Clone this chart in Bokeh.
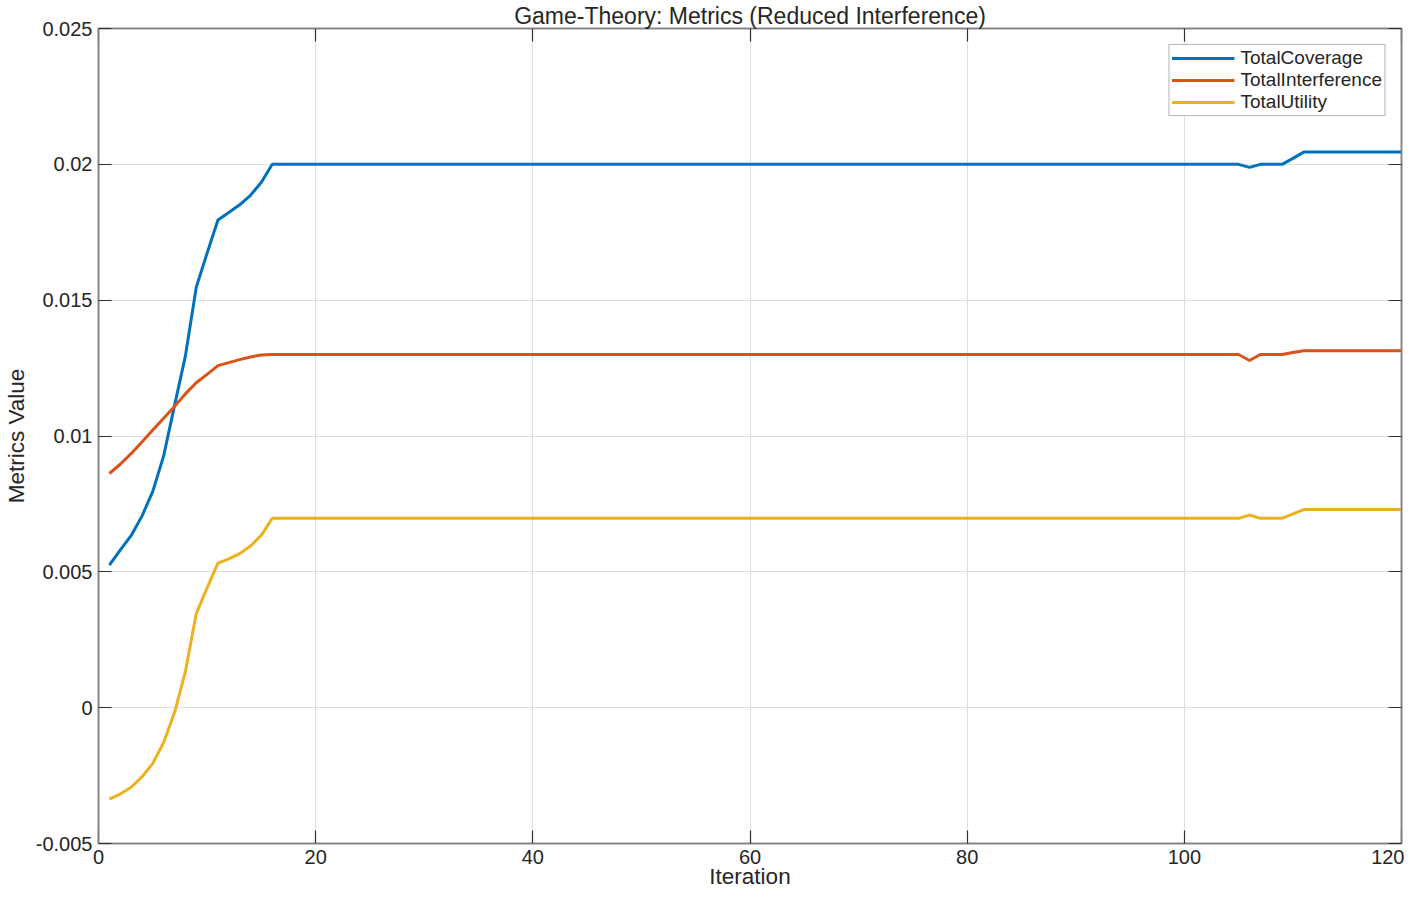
from bokeh.plotting import figure
from bokeh.models import (LinearAxis, FixedTicker, CustomJSTickFormatter, Legend,
                          LegendItem, Range1d)
from bokeh.embed import file_html
from bokeh.resources import INLINE

# ---------------- data ----------------
iterations = list(range(1, 121))

total_coverage = [
    0.00525, 0.00580, 0.00633, 0.00705, 0.00796, 0.00927, 0.01112, 0.01294, 0.01547, 0.01673,
    0.01795, 0.01823, 0.01851, 0.01886, 0.01934, 0.02000, 0.02000, 0.02000, 0.02000, 0.02000,
    0.02000, 0.02000, 0.02000, 0.02000, 0.02000, 0.02000, 0.02000, 0.02000, 0.02000, 0.02000,
    0.02000, 0.02000, 0.02000, 0.02000, 0.02000, 0.02000, 0.02000, 0.02000, 0.02000, 0.02000,
    0.02000, 0.02000, 0.02000, 0.02000, 0.02000, 0.02000, 0.02000, 0.02000, 0.02000, 0.02000,
    0.02000, 0.02000, 0.02000, 0.02000, 0.02000, 0.02000, 0.02000, 0.02000, 0.02000, 0.02000,
    0.02000, 0.02000, 0.02000, 0.02000, 0.02000, 0.02000, 0.02000, 0.02000, 0.02000, 0.02000,
    0.02000, 0.02000, 0.02000, 0.02000, 0.02000, 0.02000, 0.02000, 0.02000, 0.02000, 0.02000,
    0.02000, 0.02000, 0.02000, 0.02000, 0.02000, 0.02000, 0.02000, 0.02000, 0.02000, 0.02000,
    0.02000, 0.02000, 0.02000, 0.02000, 0.02000, 0.02000, 0.02000, 0.02000, 0.02000, 0.02000,
    0.02000, 0.02000, 0.02000, 0.02000, 0.02000, 0.01989, 0.02000, 0.02000, 0.02000, 0.02022,
    0.02045, 0.02045, 0.02045, 0.02045, 0.02045, 0.02045, 0.02045, 0.02045, 0.02045, 0.02045,
]

total_interference = [
    0.00862, 0.00896, 0.00935, 0.00978, 0.01022, 0.01065, 0.01109, 0.01155, 0.01196, 0.01227,
    0.01259, 0.01270, 0.01281, 0.01291, 0.01298, 0.01300, 0.01300, 0.01300, 0.01300, 0.01300,
    0.01300, 0.01300, 0.01300, 0.01300, 0.01300, 0.01300, 0.01300, 0.01300, 0.01300, 0.01300,
    0.01300, 0.01300, 0.01300, 0.01300, 0.01300, 0.01300, 0.01300, 0.01300, 0.01300, 0.01300,
    0.01300, 0.01300, 0.01300, 0.01300, 0.01300, 0.01300, 0.01300, 0.01300, 0.01300, 0.01300,
    0.01300, 0.01300, 0.01300, 0.01300, 0.01300, 0.01300, 0.01300, 0.01300, 0.01300, 0.01300,
    0.01300, 0.01300, 0.01300, 0.01300, 0.01300, 0.01300, 0.01300, 0.01300, 0.01300, 0.01300,
    0.01300, 0.01300, 0.01300, 0.01300, 0.01300, 0.01300, 0.01300, 0.01300, 0.01300, 0.01300,
    0.01300, 0.01300, 0.01300, 0.01300, 0.01300, 0.01300, 0.01300, 0.01300, 0.01300, 0.01300,
    0.01300, 0.01300, 0.01300, 0.01300, 0.01300, 0.01300, 0.01300, 0.01300, 0.01300, 0.01300,
    0.01300, 0.01300, 0.01300, 0.01300, 0.01300, 0.01278, 0.01300, 0.01300, 0.01300, 0.01307,
    0.01314, 0.01314, 0.01314, 0.01314, 0.01314, 0.01314, 0.01314, 0.01314, 0.01314, 0.01314,
]

total_utility = [
    -0.00337, -0.00318, -0.00293, -0.00255, -0.00205, -0.00128, -0.00018, 0.00132, 0.00346, 0.00441,
    0.00532, 0.00548, 0.00567, 0.00595, 0.00635, 0.00697, 0.00697, 0.00697, 0.00697, 0.00697,
    0.00697, 0.00697, 0.00697, 0.00697, 0.00697, 0.00697, 0.00697, 0.00697, 0.00697, 0.00697,
    0.00697, 0.00697, 0.00697, 0.00697, 0.00697, 0.00697, 0.00697, 0.00697, 0.00697, 0.00697,
    0.00697, 0.00697, 0.00697, 0.00697, 0.00697, 0.00697, 0.00697, 0.00697, 0.00697, 0.00697,
    0.00697, 0.00697, 0.00697, 0.00697, 0.00697, 0.00697, 0.00697, 0.00697, 0.00697, 0.00697,
    0.00697, 0.00697, 0.00697, 0.00697, 0.00697, 0.00697, 0.00697, 0.00697, 0.00697, 0.00697,
    0.00697, 0.00697, 0.00697, 0.00697, 0.00697, 0.00697, 0.00697, 0.00697, 0.00697, 0.00697,
    0.00697, 0.00697, 0.00697, 0.00697, 0.00697, 0.00697, 0.00697, 0.00697, 0.00697, 0.00697,
    0.00697, 0.00697, 0.00697, 0.00697, 0.00697, 0.00697, 0.00697, 0.00697, 0.00697, 0.00697,
    0.00697, 0.00697, 0.00697, 0.00697, 0.00697, 0.00709, 0.00697, 0.00697, 0.00697, 0.00713,
    0.00729, 0.00729, 0.00729, 0.00729, 0.00729, 0.00729, 0.00729, 0.00729, 0.00729, 0.00729,
]

series_names = ["TotalCoverage", "TotalInterference", "TotalUtility"]
series_colors = ["#0072BD", "#D95319", "#EDB120"]
x_ticks = [0, 20, 40, 60, 80, 100, 120]
y_ticks = [-0.005, 0, 0.005, 0.01, 0.015, 0.02, 0.025]

assert len(total_coverage) == len(total_interference) == len(total_utility) == len(iterations)

# ---------------- style ----------------
FONT = "Liberation Sans"
TXT = "#262626"
AXIS = "#808080"
TICK = "#303030"

p = figure(width=1404, height=891,
           x_range=Range1d(0, 120), y_range=Range1d(-0.005, 0.025),
           output_backend="svg", toolbar_location=None,
           min_border_left=0, min_border_right=3,
           min_border_top=0, min_border_bottom=0)

p.title.text = "Game-Theory: Metrics (Reduced Interference)"
p.title.align = "center"
p.title.text_font = FONT
p.title.text_font_size = "23px"
p.title.text_font_style = "normal"
p.title.text_color = TXT
p.title.standoff = 0
p.title.offset = 0

fmt = "return Number(tick.toFixed(6)).toString();"

def style_axis(ax, ticks, show_labels):
    ax.ticker = FixedTicker(ticks=ticks)
    ax.axis_line_color = AXIS
    ax.axis_line_width = 1.5
    ax.major_tick_line_color = TICK
    ax.major_tick_line_width = 1.2
    ax.major_tick_in = 13
    ax.major_tick_out = 0
    ax.minor_tick_in = 0
    ax.minor_tick_out = 0
    ax.minor_tick_line_color = None
    if show_labels:
        ax.formatter = CustomJSTickFormatter(code=fmt)
        ax.major_label_text_font = FONT
        ax.major_label_text_font_size = "20px"
        ax.major_label_text_color = TXT
        ax.axis_label_text_font = FONT
        ax.axis_label_text_font_size = "22.5px"
        ax.axis_label_text_font_style = "normal"
        ax.axis_label_text_color = TXT
    else:
        ax.formatter = CustomJSTickFormatter(code="return '';")
        ax.major_label_text_font_size = "0px"
        ax.major_label_standoff = 0
        ax.axis_label_standoff = 0

xa = p.xaxis[0]
ya = p.yaxis[0]
style_axis(xa, x_ticks, True)
style_axis(ya, y_ticks, True)
xa.axis_label = "Iteration"
ya.axis_label = "Metrics Value"
xa.major_label_standoff = 6
xa.axis_label_standoff = -3
ya.major_label_standoff = 6
ya.axis_label_standoff = 4

ra = LinearAxis()
style_axis(ra, y_ticks, False)
p.add_layout(ra, "right")
ta = LinearAxis()
style_axis(ta, x_ticks, False)
p.add_layout(ta, "above")

p.xgrid.ticker = FixedTicker(ticks=x_ticks)
p.ygrid.ticker = FixedTicker(ticks=y_ticks)
p.xgrid.grid_line_color = "#dfdfdf"
p.ygrid.grid_line_color = "#dfdfdf"
p.xgrid.grid_line_width = 1
p.ygrid.grid_line_width = 1
p.outline_line_color = AXIS
p.outline_line_width = 1.5
p.background_fill_color = "white"
p.border_fill_color = "white"

items = []
for name, vals, col in zip(series_names,
                           [total_coverage, total_interference, total_utility],
                           series_colors):
    r = p.line(iterations, vals, line_color=col, line_width=3)
    items.append(LegendItem(label=name, renderers=[r]))

legend = Legend(items=items, location="top_right", margin=16,
                padding=2, spacing=0, glyph_width=63, glyph_height=20,
                label_height=20, label_standoff=6,
                label_text_font=FONT, label_text_font_size="19px",
                label_text_color=TXT,
                border_line_color="#6e6e6e", border_line_width=1,
                background_fill_color="white", background_fill_alpha=1)
p.add_layout(legend)

open("out.html", "w").write(file_html(p, INLINE))
